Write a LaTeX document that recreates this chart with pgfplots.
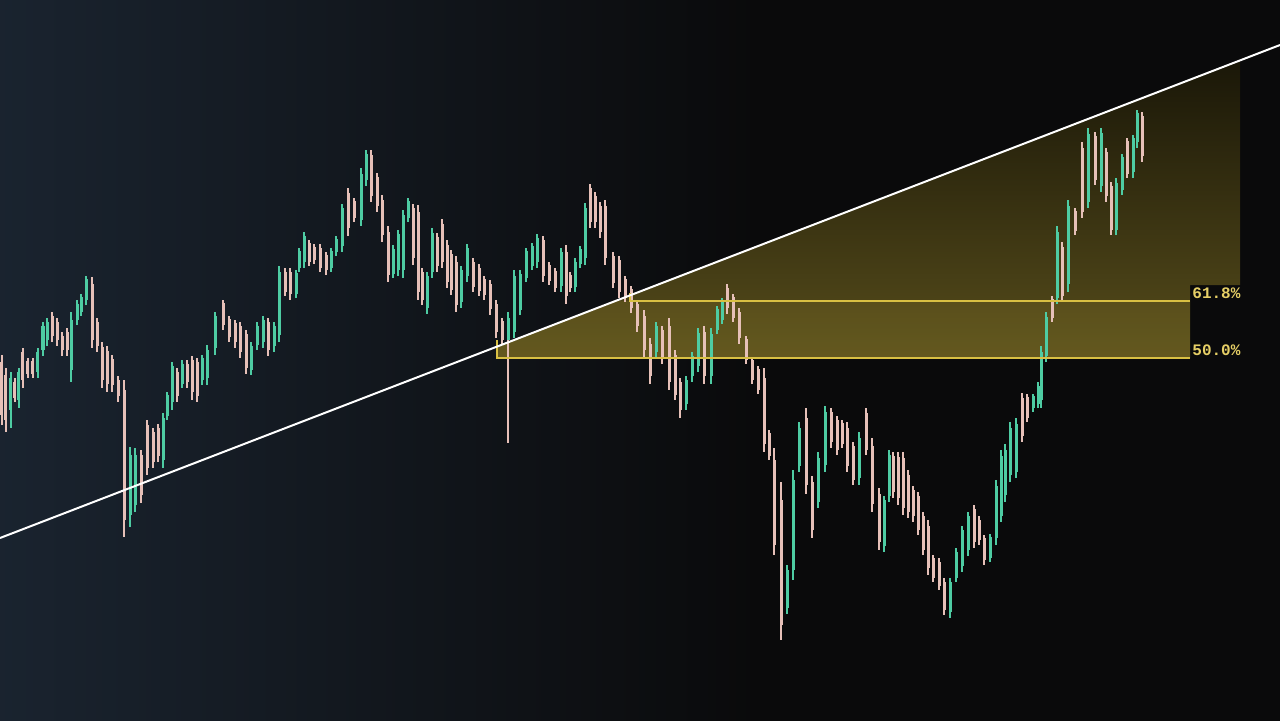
\documentclass[border=0pt]{standalone}
\usepackage{pgfplots}
\pgfplotsset{compat=1.18}
\usepackage{pgfplotstable}
\usepackage{fontspec}
\setmonofont{Liberation Mono}
\definecolor{cgreen}{HTML}{4ECCA3}
\definecolor{cpink}{HTML}{E6C0B8}
\definecolor{fibline}{HTML}{D9C043}
\definecolor{fibtext}{HTML}{E6CF66}
\definecolor{bgleft}{HTML}{1A2430}
\definecolor{bgright}{HTML}{0A0A0B}

% x, wick top, wick bottom, body top, body bottom (pixel rows, measured from top)
\pgfplotstableread{
x a b c d
11 372 428 378 410
19 368 408 372 400
38 348 378 352 372
43 322 356 326 350
47 318 346 322 340
71 312 382 320 370
77 300 325 304 320
81 294 316 297 312
86 276 305 279 300
130 447 527 455 515
135 448 512 455 505
163 413 468 418 460
167 392 420 395 416
172 362 410 366 402
182 360 388 364 384
202 355 385 358 380
207 345 385 350 378
215 312 355 316 348
251 342 375 346 370
257 322 350 326 345
263 316 348 320 342
274 322 352 326 346
279 266 342 272 335
296 270 298 273 294
299 248 272 251 268
304 232 268 236 262
331 248 272 251 268
336 236 256 239 252
342 204 252 208 246
361 168 226 174 220
366 150 186 154 180
393 245 278 249 274
398 230 276 234 270
403 210 278 215 270
408 198 222 201 218
427 272 314 276 308
432 228 278 233 272
461 266 308 270 302
467 244 282 248 276
508 312 345 318 340
514 270 338 276 332
520 270 315 274 310
526 248 282 251 278
532 243 270 246 266
537 234 268 238 262
561 248 292 252 286
575 258 292 262 287
580 246 268 249 264
585 203 265 208 258
656 322 358 326 352
686 376 410 380 404
692 352 382 356 376
698 328 372 333 366
711 328 384 334 376
717 306 334 309 330
722 298 324 301 320
787 565 614 570 608
793 470 580 480 570
799 422 472 428 466
818 452 508 458 502
825 406 472 412 465
859 432 485 438 478
884 496 552 500 546
889 450 502 455 496
950 578 618 582 612
956 548 582 552 578
962 526 572 530 566
968 512 556 516 550
990 534 562 537 558
996 480 545 486 538
1001 450 522 456 516
1005 444 502 450 495
1010 422 482 428 475
1016 418 478 424 472
1033 394 412 396 408
1038 382 408 386 404
1041 346 408 352 400
1046 312 362 317 356
1057 226 304 232 298
1068 200 292 206 284
1088 128 208 134 202
1101 128 192 133 186
1116 178 235 183 230
1122 154 195 157 190
1133 135 178 138 172
1137 110 148 113 142
}\greentab

\pgfplotstableread{
x a b c d
2 355 425 362 415
6 368 432 375 420
15 378 402 382 398
23 348 388 352 380
28 358 378 361 374
33 358 378 361 374
52 312 342 316 336
57 318 346 322 340
62 332 356 336 350
67 328 356 332 350
92 277 348 284 340
97 318 352 322 346
102 342 388 347 380
107 346 392 351 384
112 355 392 359 385
118 376 402 380 396
124 380 537 390 520
141 450 503 455 495
147 420 475 425 468
153 428 468 432 462
158 424 462 428 456
177 368 402 372 396
187 360 388 364 382
192 356 400 360 392
197 358 402 362 396
223 300 330 303 325
229 316 342 319 337
235 320 348 323 342
240 322 358 326 352
246 330 374 334 368
268 318 356 322 350
285 268 296 272 292
290 268 300 272 294
309 240 266 243 262
314 244 264 247 260
320 244 272 248 268
326 252 275 255 270
348 188 236 193 228
354 198 222 201 218
371 150 202 155 196
377 173 212 177 206
382 195 242 200 235
388 226 282 232 275
413 204 265 208 258
418 205 300 212 292
422 268 305 272 300
437 233 272 237 266
442 219 268 224 262
447 240 288 245 282
451 250 295 254 290
456 256 312 262 305
473 258 292 262 287
479 264 296 268 291
484 276 300 279 295
490 280 315 284 309
496 300 338 304 332
502 318 345 321 340
508 340 443 340 340
543 236 282 240 276
549 262 285 265 281
555 268 292 271 288
566 245 304 252 296
570 272 292 275 288
590 184 228 188 222
595 192 228 196 222
600 202 238 206 232
605 200 265 206 258
613 252 288 256 283
619 256 298 260 292
625 276 302 279 298
631 286 313 289 308
637 300 332 304 326
644 310 358 316 350
650 338 384 344 376
662 326 364 330 358
669 318 390 326 382
675 350 400 355 395
680 378 418 382 410
704 326 384 332 376
727 284 314 288 308
733 294 322 297 318
739 308 344 312 338
746 336 364 339 360
752 357 384 360 380
758 366 394 369 390
764 368 452 378 444
769 430 460 433 456
774 448 555 460 545
781 482 640 500 625
806 408 494 418 485
812 476 538 482 530
831 408 448 412 442
837 416 455 420 450
842 420 448 423 444
847 422 472 428 466
853 442 485 446 480
866 408 455 413 450
872 438 512 446 504
879 488 550 494 542
893 452 498 456 492
898 452 505 457 498
903 452 515 458 508
908 470 518 475 512
913 486 522 490 516
918 492 535 496 530
923 512 555 516 550
928 520 575 526 568
933 555 582 558 578
939 558 590 562 586
944 578 615 582 610
974 505 548 509 542
979 516 545 520 540
984 535 565 538 560
1022 393 442 398 436
1027 394 422 397 418
1052 296 322 299 318
1062 242 302 247 296
1075 208 235 211 231
1082 142 218 148 212
1095 132 185 136 180
1106 148 202 152 196
1111 182 235 186 230
1127 138 178 141 174
1142 112 162 116 156
}\pinktab

\begin{document}
\begin{tikzpicture}
\begin{axis}[
  width=640pt, height=360pt, scale only axis,
  xmin=0, xmax=1280, ymin=0, ymax=720, y dir=reverse,
  hide axis, clip=true,
]
% background
\addplot[draw=none, fill=bgright, forget plot]
  coordinates {(-20,-20) (1300,-20) (1300,740) (-20,740)} -- cycle;
\addplot[draw=none, shade, left color=bgleft, right color=bgright, forget plot]
  coordinates {(-20,-20) (760,-20) (760,740) (-20,740)} -- cycle;
% fibonacci zone fill
\addplot[draw=none, shade, top color=fibline!12!black, bottom color=fibline!40!black, forget plot]
  coordinates {(497,358) (497,346.6) (1240,60.4) (1240,285) (1190,285) (1190,358)} -- cycle;
\addplot[draw=none, fill=fibline, fill opacity=0.10, forget plot]
  coordinates {(615,301) (1190,301) (1190,358) (497,358) (497,346.6)} -- cycle;

% candles: wicks
\addplot[draw=none, mark=none, forget plot, error bars/.cd, y dir=both, y explicit, error mark=none,
  error bar style={draw=cgreen, line width=0.6pt}]
  table[x=x, y expr={(\thisrow{a}+\thisrow{b})/2}, y error expr={(\thisrow{b}-\thisrow{a})/2}] {\greentab};
\addplot[draw=none, mark=none, forget plot, error bars/.cd, y dir=both, y explicit, error mark=none,
  error bar style={draw=cpink, line width=0.6pt}]
  table[x=x, y expr={(\thisrow{a}+\thisrow{b})/2}, y error expr={(\thisrow{b}-\thisrow{a})/2}] {\pinktab};
% candles: bodies
\addplot[draw=none, mark=none, forget plot, error bars/.cd, y dir=both, y explicit, error mark=none,
  error bar style={draw=cgreen, line width=1.5pt}]
  table[x=x, y expr={(\thisrow{c}+\thisrow{d})/2}, y error expr={(\thisrow{d}-\thisrow{c})/2}] {\greentab};
\addplot[draw=none, mark=none, forget plot, error bars/.cd, y dir=both, y explicit, error mark=none,
  error bar style={draw=cpink, line width=1.5pt}]
  table[x=x, y expr={(\thisrow{c}+\thisrow{d})/2}, y error expr={(\thisrow{d}-\thisrow{c})/2}] {\pinktab};

% fibonacci levels
\addplot[fibline, line width=1pt, forget plot] coordinates {(630,293) (630,301) (1190,301)};
\addplot[fibline, line width=1pt, forget plot] coordinates {(497,340) (497,358) (1190,358)};
% trend line
\addplot[white, line width=1pt, forget plot] coordinates {(0,538) (1280,45)};

\node[anchor=west, font=\ttfamily\bfseries\fontsize{8}{9}\selectfont, text=fibtext, inner sep=0pt]
  at (axis cs:1192,293) {61.8\%};
\node[anchor=west, font=\ttfamily\bfseries\fontsize{8}{9}\selectfont, text=fibtext, inner sep=0pt]
  at (axis cs:1192,350) {50.0\%};
\end{axis}
\end{tikzpicture}
\end{document}
